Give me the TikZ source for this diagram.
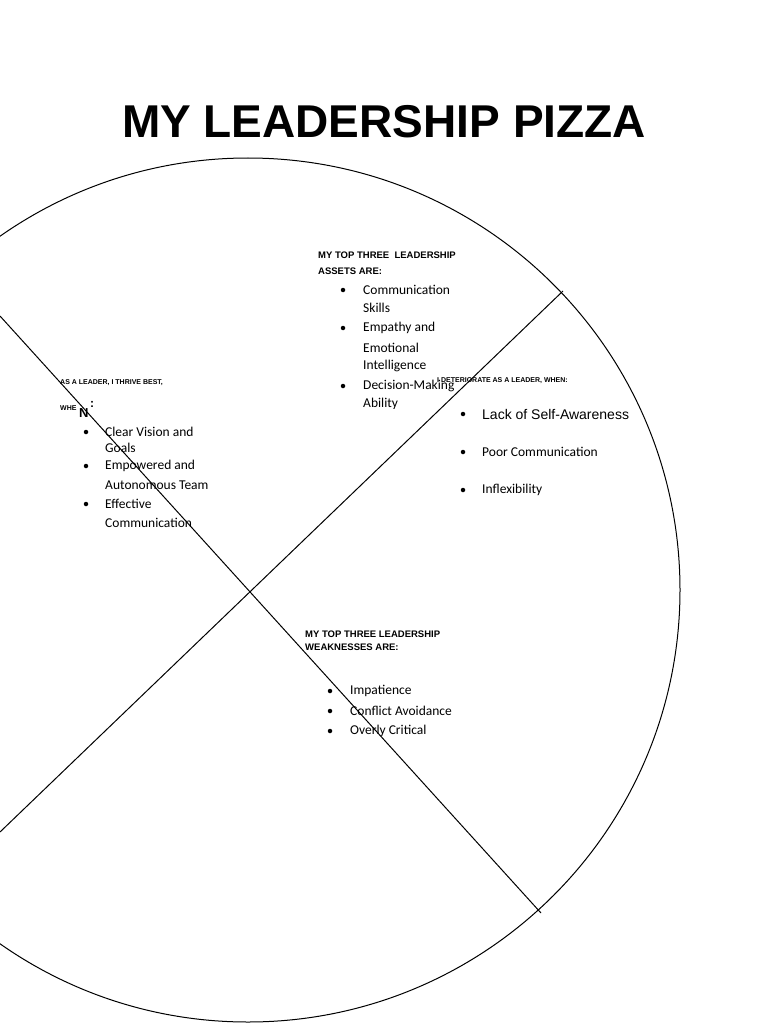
\documentclass[tikz,border=0pt]{standalone}
\usepackage{fontspec}
\setmainfont{Carlito}
\newfontfamily\arial{Liberation Sans}
\begin{document}
\begin{tikzpicture}[x=1pt,y=-1pt,
  txt/.style={anchor=west,inner sep=0pt,font=\fontsize{13.5}{14}\selectfont},
  hd/.style={anchor=west,inner sep=0pt,font=\arial\bfseries\fontsize{9.5}{10}\selectfont},
  sm/.style={anchor=west,inner sep=0pt,font=\arial\bfseries\fontsize{7}{8}\selectfont},
  bul/.style={circle,fill=black,inner sep=0pt,minimum size=4.5pt}]
\useasboundingbox (0,0) rectangle (768,1024);
\clip (0,0) rectangle (768,1024);
\node[circle,draw,line width=1pt,minimum size=864pt,inner sep=0pt] (pz) at (248,590) {};
\coordinate (a1) at (0,316); \coordinate (a2) at (541,913);
\coordinate (b1) at (563,291); \coordinate (b2) at (0,832);
\draw[line width=1pt] (a1) -- (a2);
\draw[line width=1pt] (b1) -- (b2);
\node[inner sep=0pt,font=\arial\bfseries\fontsize{46}{48}\selectfont] (title) at (384,122) {MY LEADERSHIP PIZZA};
% top
\node[hd] (t1) at (318,255) {MY TOP THREE\ \ LEADERSHIP};
\node[hd] (t2) at (318,271) {ASSETS ARE:};
\foreach \y/\t in {290/Communication,328/Empathy and,386/Decision-Making}{\node[bul] at (343,\y) {}; \node[txt] at (363,\y) {\t};}
\node[txt] at (363,308) {Skills};
\node[txt] at (363,348) {Emotional};
\node[txt] at (363,366) {Intelligence};
\begin{scope}\clip (300,390) rectangle (470,408);
\node[txt] at (363,404) {Ability};\end{scope}
% left
\node[sm] (l1) at (60,383) {AS A LEADER, I THRIVE BEST,};
\node[sm] (l2) at (60,408) {WHE};
\node[anchor=west,inner sep=0pt,font=\arial\bfseries\fontsize{13}{14}\selectfont] at (79,413) {N};
\node[anchor=west,inner sep=0pt,font=\arial\bfseries\fontsize{12}{14}\selectfont] at (90,404) {:};
\foreach \y/\t in {432/Clear Vision and,466/Empowered and,504/Effective}{\node[bul] at (86,\y) {}; \node[txt] at (105,\y) {\t};}
\node[txt] at (105,448) {Goals};
\node[txt] at (105,485) {Autonomous Team};
\node[txt] at (105,523) {Communication};
% right
\node[sm] (r1) at (437,381) {I DETERIORATE AS A LEADER, WHEN:};
\node[bul] at (463,414) {}; \node[anchor=west,inner sep=0pt,font=\arial\fontsize{14}{16}\selectfont] at (482,414) {Lack of Self-Awareness};
\node[bul] at (463,452) {}; \node[txt] at (482,452) {Poor Communication};
\node[bul] at (463,490) {}; \node[txt] at (482,490) {Inflexibility};
% bottom
\node[hd] (w1) at (305,634) {MY TOP THREE LEADERSHIP};
\node[hd] (w2) at (305,647) {WEAKNESSES ARE:};
\foreach \y/\t in {691/Impatience,711/Conflict Avoidance,731/Overly Critical}{\node[bul] at (330,\y) {}; \node[txt] at (350,\y) {\t};}
\end{tikzpicture}
\end{document}
